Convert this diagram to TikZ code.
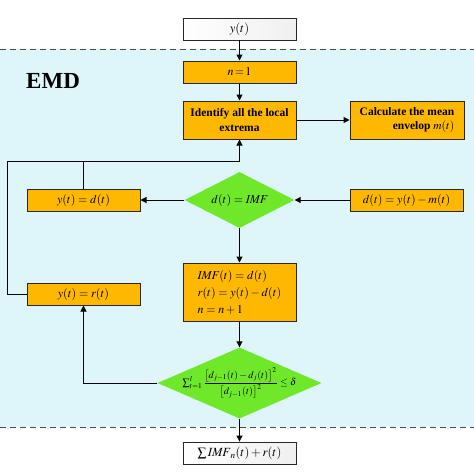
\documentclass[tikz,border=0pt]{standalone}
\usepackage{amsmath}
\usepackage{mathptmx}
\usepackage{fontspec}
\setmainfont{Liberation Serif}
\usetikzlibrary{shapes.geometric,arrows.meta}
\definecolor{boxor}{RGB}{255,184,0}
\definecolor{diagr}{RGB}{110,232,40}
\definecolor{bgblue}{RGB}{222,246,250}
\definecolor{edge}{RGB}{40,40,40}
\tikzset{
  obox/.style={draw=edge,line width=1pt,fill=boxor,minimum width=113pt,minimum height=22pt,inner sep=1pt,font=\fontsize{12}{14}\selectfont},
  wbox/.style={draw=edge,line width=0.8pt,left color=white,right color=gray!12,minimum width=113pt,minimum height=22pt,inner sep=1pt,font=\fontsize{12.5}{14}\selectfont},
  gdia/.style={diamond,fill=diagr,draw=none,inner sep=0pt},
  dtext/.style={inner sep=0pt,font=\fontsize{12}{14}\selectfont},
  conn/.style={line width=1pt,draw=black},
  arr/.style={conn,-{Triangle[length=6pt,width=6pt]}},
  sep/.style={line width=1pt,dash pattern=on 6pt off 4pt,draw=black!70}
}
\begin{document}
\begin{tikzpicture}[x=1pt,y=-1pt]
\useasboundingbox (0,0) rectangle (474,474);
\fill[bgblue] (0,49) rectangle (474,427);
\draw[sep] (0,49) -- (474,49);
\draw[sep] (0,427) -- (474,427);
\node[font=\fontsize{23}{26}\selectfont\bfseries,anchor=west,inner sep=0pt] (emd) at (26,81) {EMD};
\node[wbox] (yt) at (239.5,29) {$y(t)$};
\node[obox] (n1) at (239.5,72) {$n\!=\!1$};
\node[obox,minimum height=38pt,align=center,font=\fontsize{11.5}{14.5}\selectfont\bfseries] (ident) at (239.5,120) {Identify all the local\\extrema};
\node[obox,minimum width=114pt,minimum height=38pt,align=right,font=\fontsize{11.5}{14.5}\selectfont\bfseries] (calc) at (407,120) {Calculate the mean\\envelop $m(t)$};
\node[gdia,minimum width=110pt,minimum height=56pt] (dia1) at (239.5,200) {};
\node[dtext] (dia1t) at (dia1.center) {$d(t)=\mathit{IMF}$};
\node[obox] (yd) at (83.5,200) {$y(t)=d(t)$};
\node[obox] (dy) at (406.5,200) {$d(t)=y(t)-m(t)$};
\node[obox,minimum height=58pt,align=left,font=\fontsize{12}{17}\selectfont] (imf) at (239.5,292) {$\mathit{IMF}(t)=d(t)$\\$r(t)=y(t)-d(t)$\\$n=n+1$};
\node[obox] (yr) at (83.5,294) {$y(t)=r(t)$};
\node[gdia,minimum width=164pt,minimum height=71pt] (dia2) at (239.5,383) {};
\node[dtext,font=\fontsize{10}{12}\selectfont] (dia2t) at (dia2.center) {$\sum_{t=1}^{l}\dfrac{\left[d_{j-1}(t)-d_j(t)\right]^2}{\left[d_{j-1}(t)\right]^2}\le\delta$};
\node[wbox] (sum) at (239.5,453) {$\sum \mathit{IMF}_n(t)+r(t)$};
\coordinate (jt) at (239.5,161);
\coordinate (jl) at (7,161);
\draw[arr] (yt) -- (n1);
\draw[arr] (n1) -- (ident);
\draw[arr] (ident) -- (calc);
\draw[arr] (dy) -- (dia1);
\draw[arr] (dia1) -- (yd);
\draw[arr] (dia1) -- (imf);
\draw[conn] (yd.north) |- (jt);
\draw[conn] (yr.west) -| (jl) -- (jt);
\draw[arr] (jt) -- (ident.south);
\draw[arr] (imf) -- (dia2);
\draw[arr] (dia2.west) -| (yr.south);
\draw[arr] (dia2) -- (sum);
\end{tikzpicture}
\end{document}
